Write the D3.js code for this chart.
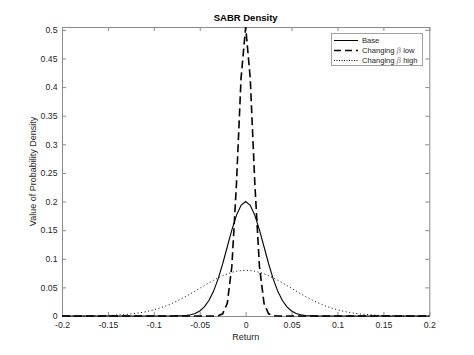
<!DOCTYPE html>
<html><head><meta charset="utf-8">
<script src="https://cdn.jsdelivr.net/npm/d3@7"></script>
<style>body{margin:0;background:#fff}svg{display:block}text{font-family:"Liberation Sans",Arial,Helvetica,sans-serif}</style>
</head><body><svg id="c" width="474" height="355"></svg>
<script>
const returns = [-0.2,-0.195,-0.19,-0.185,-0.18,-0.175,-0.17,-0.165,-0.16,-0.155,-0.15,-0.145,-0.14,-0.135,-0.13,-0.125,-0.12,-0.115,-0.11,-0.105,-0.1,-0.095,-0.09,-0.085,-0.08,-0.075,-0.07,-0.065,-0.06,-0.055,-0.05,-0.045,-0.04,-0.035,-0.03,-0.025,-0.02,-0.015,-0.01,-0.005,0,0.005,0.01,0.015,0.02,0.025,0.03,0.035,0.04,0.045,0.05,0.055,0.06,0.065,0.07,0.075,0.08,0.085,0.09,0.095,0.1,0.105,0.11,0.115,0.12,0.125,0.13,0.135,0.14,0.145,0.15,0.155,0.16,0.165,0.17,0.175,0.18,0.185,0.19,0.195,0.2];
const baseHalf = [0.200,0.1934,0.1761,0.1506,0.1210,0.0913,0.0648,0.0431,0.0270,0.0159,0.0088,0.0045,0.0022,0.0010,0.0004,0.0002,0.0001,0,0,0,0,0,0,0,0,0,0,0,0,0,0,0,0,0,0,0,0,0,0,0,0];
const lowHalf  = [0.505,0.4156,0.2312,0.0871,0.0222,0.0038,0.0004,0,0,0,0,0,0,0,0,0,0,0,0,0,0,0,0,0,0,0,0,0,0,0,0,0,0,0,0,0,0,0,0,0,0];
const highHalf = [0.0798,0.0794,0.0782,0.0763,0.0737,0.0704,0.0667,0.0625,0.0579,0.0532,0.0484,0.0436,0.0388,0.0343,0.0300,0.0259,0.0222,0.0188,0.0158,0.0131,0.0108,0.0088,0.0071,0.0057,0.0045,0.0035,0.0027,0.0021,0.0016,0.0012,0.0009,0.0007,0.0005,0.0003,0.0002,0.0002,0.0001,0.0001,0.0001,0,0];
// values read from the (symmetric) picture, centre outwards; mirrored to the full grid
const mirror = h => h.slice(1).reverse().concat(h);
const baseSeries = mirror(baseHalf), lowSeries = mirror(lowHalf), highSeries = mirror(highHalf);
const xTicks = [-0.2,-0.15,-0.1,-0.05,0,0.05,0.1,0.15,0.2];
const yTicks = [0,0.05,0.1,0.15,0.2,0.25,0.3,0.35,0.4,0.45,0.5];
const seriesNames = ["Base","Changing β low","Changing β high"];

const svg = d3.select("#c");
const L=62, R=429.3, T=27, B=316;
const x = d3.scaleLinear().domain([-0.2,0.2]).range([L,R]);
const y = d3.scaleLinear().domain([0,0.505]).range([B,T]);
const axC="#8a8a8a", txC="#262626";

const fmt = v => v===0 ? "0" : String(+v.toFixed(2));
const mk = (ax, s) => ax.tickValues(s).tickFormat(fmt).tickSizeInner(-4).tickSizeOuter(0).tickPadding(4);

const gx = svg.append("g").attr("transform",`translate(0,${B})`).call(mk(d3.axisBottom(x), xTicks));
const gxt = svg.append("g").attr("transform",`translate(0,${T})`).call(mk(d3.axisTop(x), xTicks).tickFormat(""));
const gy = svg.append("g").attr("transform",`translate(${L},0)`).call(mk(d3.axisLeft(y), yTicks));
const gyr = svg.append("g").attr("transform",`translate(${R},0)`).call(mk(d3.axisRight(y), yTicks).tickFormat(""));
[gx,gxt,gy,gyr].forEach(g=>{
  g.select(".domain").attr("stroke",axC).attr("stroke-width",1);
  g.selectAll(".tick line").attr("stroke",axC);
  g.selectAll(".tick text").attr("fill",txC).attr("font-size","8.7px");
});
gx.selectAll(".tick text").attr("dy","0.9em");
gy.selectAll(".tick text").attr("dx","-0.5px");

const line = d3.line().x((d,i)=>x(returns[i])).y(d=>y(d));
svg.append("path").datum(highSeries).attr("d",line).attr("fill","none").attr("stroke","#000").attr("stroke-width",1).attr("stroke-dasharray","1,2.6");
svg.append("path").datum(baseSeries).attr("d",line).attr("fill","none").attr("stroke","#000").attr("stroke-width",1.1);
svg.append("path").datum(lowSeries).attr("d",line).attr("fill","none").attr("stroke","#000").attr("stroke-width",1.6).attr("stroke-dasharray","8,4");

svg.append("text").attr("x",(L+R)/2).attr("y",21).attr("text-anchor","middle").attr("font-size","9.5px").attr("font-weight","bold").attr("fill","#000").text("SABR Density");
svg.append("text").attr("x",(L+R)/2).attr("y",340).attr("text-anchor","middle").attr("font-size","9px").attr("fill",txC).text("Return");
svg.append("text").attr("transform",`translate(36,${(T+B)/2}) rotate(-90)`).attr("text-anchor","middle").attr("font-size","9px").attr("fill",txC).text("Value of Probability Density");

// legend
const lg = svg.append("g");
lg.append("rect").attr("x",331.5).attr("y",33.5).attr("width",91).attr("height",32).attr("fill","#fff").attr("stroke",axC).attr("stroke-width",0.8);
const styles=[{w:1,d:null},{w:1.4,d:"7,4"},{w:1,d:"1,1.5"}];
seriesNames.forEach((n,i)=>{
  const yy=40.5+i*10;
  lg.append("line").attr("x1",334).attr("x2",358).attr("y1",yy).attr("y2",yy).attr("stroke","#000").attr("stroke-width",styles[i].w).attr("stroke-dasharray",styles[i].d);
  const t=lg.append("text").attr("x",362).attr("y",yy+2.7).attr("font-size","7.6px").attr("fill",txC);
  if(i===0) t.text(n);
  else { const parts=n.split("β"); t.append("tspan").text(parts[0]); t.append("tspan").attr("font-family","'DejaVu Serif',serif").attr("font-style","italic").attr("fill","#888").text("β"); t.append("tspan").text(parts[1]); }
});
</script></body></html>
